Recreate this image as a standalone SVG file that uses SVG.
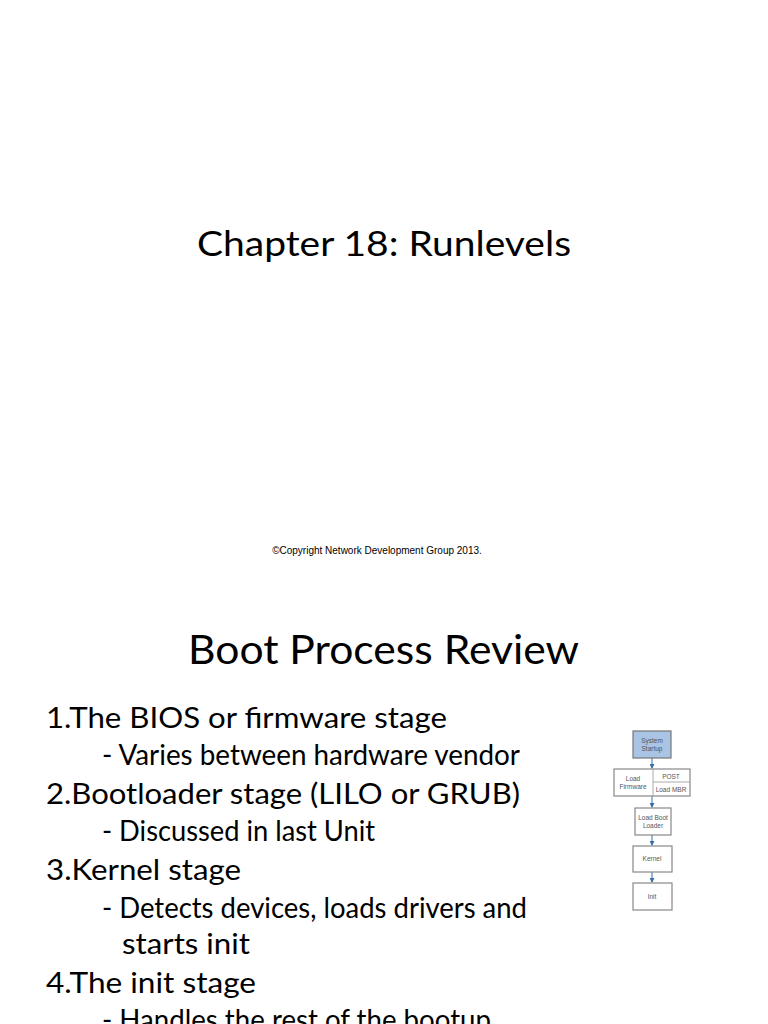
<svg xmlns="http://www.w3.org/2000/svg" width="768" height="1024" viewBox="0 0 768 1024">
<defs>
<style>
.t{font-family:Lato,"DejaVu Sans",sans-serif;fill:#000}
.b{fill:#fff;stroke:#888;stroke-width:1.2}
.s{font-family:"Liberation Sans",sans-serif;font-size:6.5px;fill:#555;text-anchor:middle}
.c{stroke:#3a6ea5;stroke-width:1;fill:none;marker-end:url(#a)}
</style>
<marker id="a" markerWidth="5" markerHeight="5" refX="4" refY="2.5" orient="auto"><path d="M0,0L5,2.5L0,5z" fill="#3a6ea5"/></marker>
</defs>
<rect width="768" height="1024" fill="#fff"/>
<text class="t" x="384" y="256" font-size="35" text-anchor="middle" font-family="DejaVu Sans,sans-serif" textLength="374" lengthAdjust="spacingAndGlyphs">Chapter 18: Runlevels</text>
<text x="377" y="554" font-family="Liberation Sans,sans-serif" font-size="10" text-anchor="middle">©Copyright Network Development Group 2013.</text>
<text class="t" x="188" y="664" font-size="40" textLength="391" lengthAdjust="spacingAndGlyphs">Boot Process Review</text>
<g class="t" font-size="28" lengthAdjust="spacingAndGlyphs">
<text x="46" y="728" textLength="401" lengthAdjust="spacingAndGlyphs">1.The BIOS or firmware stage</text>
<text x="102" y="765" textLength="418" lengthAdjust="spacingAndGlyphs">- Varies between hardware vendor</text>
<text x="46" y="804" textLength="474" lengthAdjust="spacingAndGlyphs">2.Bootloader stage (LILO or GRUB)</text>
<text x="102" y="841" textLength="273" lengthAdjust="spacingAndGlyphs">- Discussed in last Unit</text>
<text x="46" y="880" textLength="195" lengthAdjust="spacingAndGlyphs">3.Kernel stage</text>
<text x="102" y="918" textLength="425" lengthAdjust="spacingAndGlyphs">- Detects devices, loads drivers and</text>
<text x="122" y="954" textLength="128" lengthAdjust="spacingAndGlyphs">starts init</text>
<text x="46" y="993" textLength="210" lengthAdjust="spacingAndGlyphs">4.The init stage</text>
<text x="102" y="1030" textLength="389" lengthAdjust="spacingAndGlyphs">- Handles the rest of the bootup</text>
</g>
<g id="connectors">
<line class="c" x1="652" y1="758" x2="652" y2="768"/>
<line class="c" x1="652" y1="796" x2="652" y2="807"/>
<line class="c" x1="652" y1="835" x2="652" y2="845"/>
<line class="c" x1="652" y1="872" x2="652" y2="882"/>
</g>
<g id="startup"><rect x="633" y="731" width="38" height="27" fill="#a9c4e4" stroke="#777" stroke-width="1.2"/><text class="s" x="652" y="743">System</text><text class="s" x="652" y="751">Startup</text></g>
<g id="firmware"><rect class="b" x="614" y="769" width="76" height="27"/><line x1="653" y1="769" x2="653" y2="796" stroke="#aaa"/><line x1="653" y1="782" x2="690" y2="782" stroke="#aaa"/><text class="s" x="633" y="781">Load</text><text class="s" x="633" y="789">Firmware</text><text class="s" x="671" y="779">POST</text><text class="s" x="671" y="792">Load MBR</text></g>
<g id="bootloader"><rect class="b" x="635" y="808" width="36" height="27"/><text class="s" x="653" y="820">Load Boot</text><text class="s" x="653" y="828">Loader</text></g>
<g id="kernel"><rect class="b" x="633" y="846" width="39" height="26"/><text class="s" x="652" y="861">Kernel</text></g>
<g id="init"><rect class="b" x="633" y="883" width="39" height="27"/><text class="s" x="652" y="899">Init</text></g>
</svg>
